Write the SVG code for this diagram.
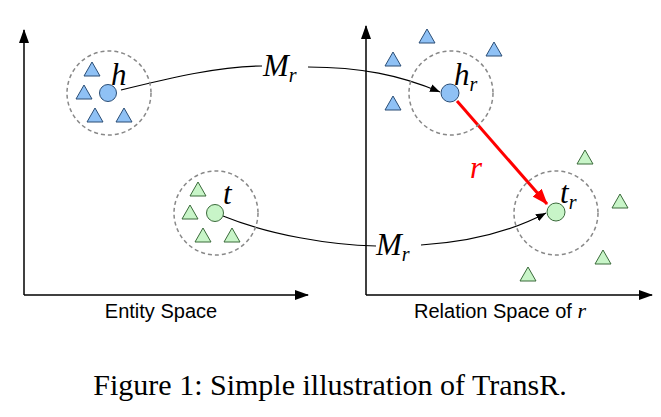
<svg xmlns="http://www.w3.org/2000/svg" width="661" height="417" viewBox="0 0 661 417">
<style>
.ax{stroke:#000;stroke-width:1.5;fill:none}
.cl{fill:none;stroke:#888;stroke-width:1.5;stroke-dasharray:4,3}
.b{fill:#8fc1f5;stroke:#2a4d75;stroke-width:1}
.g{fill:#c8f5c8;stroke:#3a6a3a;stroke-width:1}
.c{fill:none;stroke:#000;stroke-width:1.2}
.m{font-family:"Liberation Serif",serif;font-style:italic;font-size:31px}
.s{font-family:"Liberation Sans",sans-serif;font-size:20px}
</style>
<defs>
<marker id="ah" markerWidth="10" markerHeight="8" refX="10" refY="4" orient="auto" markerUnits="userSpaceOnUse"><path d="M0,0L10,4L0,8z" fill="#000"/></marker>
<marker id="ahb" markerWidth="14" markerHeight="10" refX="13" refY="5" orient="auto" markerUnits="userSpaceOnUse"><path d="M0,0L14,5L0,10z" fill="#000"/></marker>
<marker id="ar" markerWidth="16" markerHeight="12" refX="15" refY="6" orient="auto" markerUnits="userSpaceOnUse"><path d="M0,0L16,6L0,12z" fill="#f00"/></marker>
</defs>
<rect width="661" height="417" fill="#fff"/>
<g id="axes">
<path class="ax" d="M24,295V30" marker-end="url(#ahb)"/>
<path class="ax" d="M24,295H308" marker-end="url(#ahb)"/>
<path class="ax" d="M366,295V26" marker-end="url(#ahb)"/>
<path class="ax" d="M366,295H652" marker-end="url(#ahb)"/>
<text class="s" x="161" y="318" text-anchor="middle">Entity Space</text>
<text class="s" x="414" y="318">Relation Space of <tspan font-family="Liberation Serif" font-style="italic" font-size="22">r</tspan></text>
</g>
<g id="connectors">
<path class="c" d="M121,90C170,78 220,66 262,66"/>
<path class="c" d="M308,67C360,67 400,75 440,92" marker-end="url(#ah)"/>
<path class="c" d="M223,216C270,235 330,245 376,246"/>
<path class="c" d="M421,245C470,242 510,232 546,213" marker-end="url(#ah)"/>
<path d="M457,101L547,204" stroke="#f00" stroke-width="3" fill="none" marker-end="url(#ar)"/>
<text class="m" x="263" y="76">M<tspan font-size="20" dy="6">r</tspan></text>
<text class="m" x="376" y="255">M<tspan font-size="20" dy="6">r</tspan></text>
<text class="m" x="470" y="178" fill="#f00">r</text>
</g>
<g id="h">
<circle class="cl" cx="109" cy="93" r="42"/>
<path class="b" d="M92,62l8,14h-16z M84,85l8,14h-16z M95,108l8,14h-16z M124,108l8,14h-16z"/>
<circle class="b" cx="108" cy="93" r="8.5"/>
<text class="m" x="111" y="85">h</text>
</g>
<g id="t">
<circle class="cl" cx="216" cy="213" r="42"/>
<path class="g" d="M198,182l8,14h-16z M190,205l8,14h-16z M203,228l8,14h-16z M232,228l8,14h-16z"/>
<circle class="g" cx="215" cy="213" r="8.5"/>
<text class="m" x="223" y="204">t</text>
</g>
<g id="hr">
<circle class="cl" cx="451" cy="93" r="42"/>
<path class="b" d="M427,29l8,14h-16z M393,52l8,14h-16z M494,42l8,14h-16z M393,96l8,14h-16z"/>
<circle class="b" cx="450" cy="93" r="9"/>
<text class="m" x="454" y="85">h<tspan font-size="20" dy="6">r</tspan></text>
</g>
<g id="tr">
<circle class="cl" cx="556" cy="213" r="42"/>
<path class="g" d="M585,150l8,14h-16z M620,194l8,14h-16z M603,250l8,14h-16z M528,267l8,14h-16z"/>
<circle class="g" cx="556" cy="212" r="9"/>
<text class="m" x="560" y="203">t<tspan font-size="20" dy="6">r</tspan></text>
</g>
<text x="330" y="395" text-anchor="middle" font-family="Liberation Serif,serif" font-size="30">Figure 1: Simple illustration of TransR.</text>
</svg>
